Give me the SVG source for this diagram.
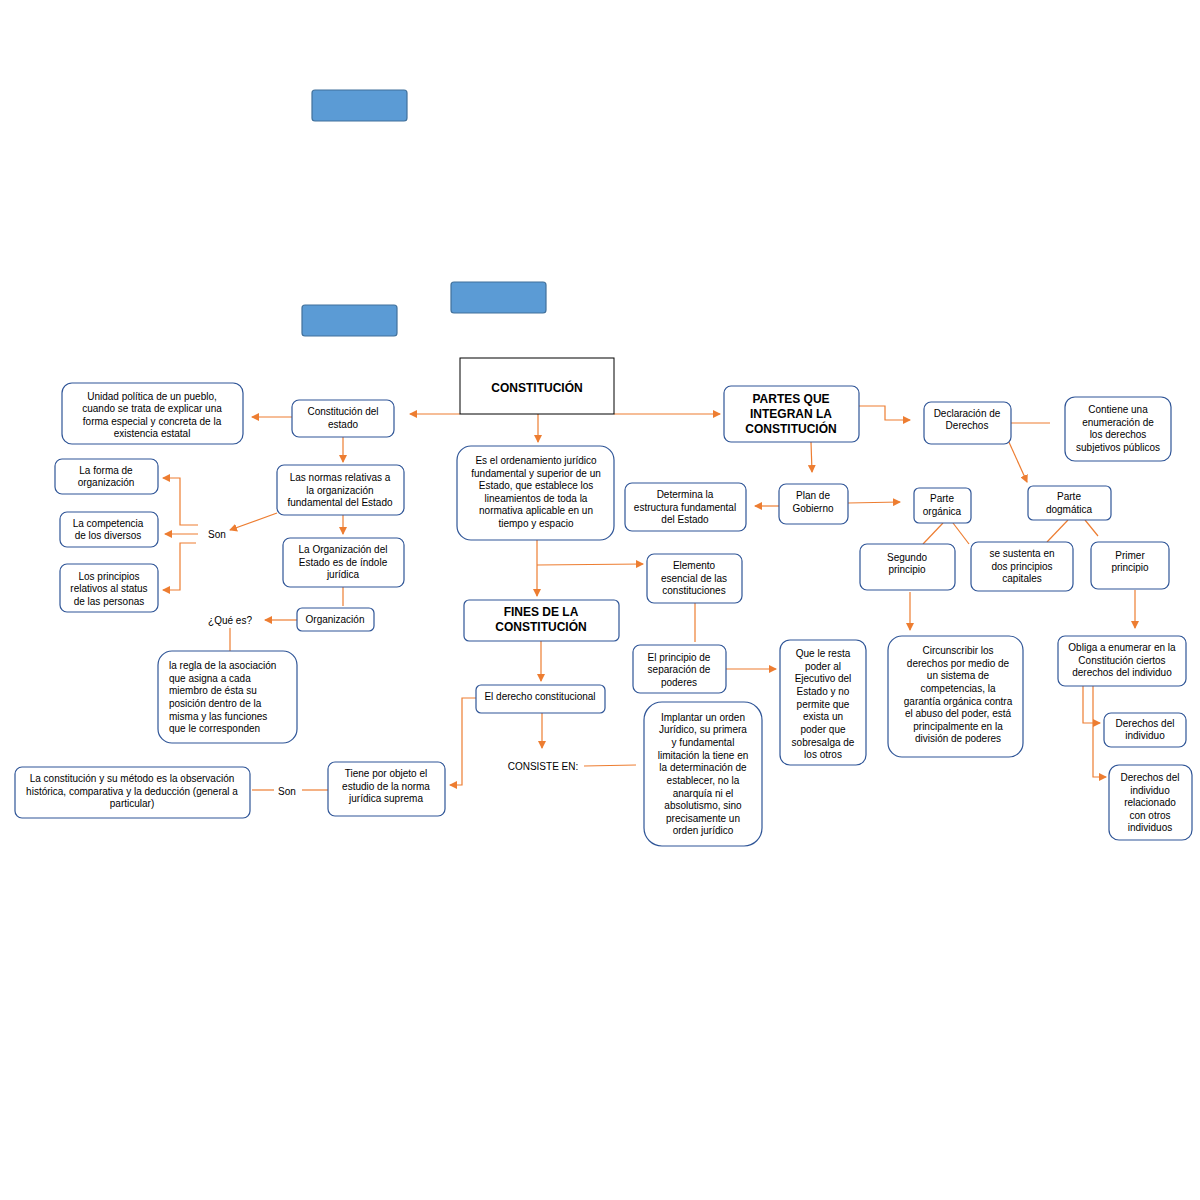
<svg xmlns="http://www.w3.org/2000/svg" width="1200" height="1200" viewBox="0 0 1200 1200">
<style>
.n{fill:#fff;stroke:#2F5597;stroke-width:1.2}
.b{fill:#5B9BD5;stroke:#41719C;stroke-width:1.2}
text{font-family:"Liberation Sans",Arial,sans-serif;font-size:10px;fill:#000;text-anchor:middle}
.h{font-size:12px;font-weight:bold}
.l{text-anchor:start}
.c path,.c line{fill:none;stroke:#ED7D31;stroke-width:1.2}
.c .a{marker-end:url(#ar)}
</style>
<defs><marker id="ar" markerWidth="8" markerHeight="8" refX="7" refY="4" orient="auto" markerUnits="userSpaceOnUse"><path d="M0,0 L8,4 L0,8 Z" fill="#ED7D31"/></marker></defs>
<rect width="1200" height="1200" fill="#fff"/>
<rect class="b" x="312" y="90" width="95" height="31" rx="3"/>
<rect class="b" x="451" y="282" width="95" height="31" rx="3"/>
<rect class="b" x="302" y="305" width="95" height="31" rx="3"/>
<g class="c">
<path class="a" d="M460,414 L410,414"/>
<path class="a" d="M614,414 L720,414"/>
<path class="a" d="M538,414 L538,442"/>
<path class="a" d="M292,417 L252,417"/>
<path class="a" d="M343,437 L343,462"/>
<path class="a" d="M277,513 L230,530"/>
<path class="a" d="M198,525 L180,525 L180,478 L163,478"/>
<path class="a" d="M198,534 L165,534"/>
<path class="a" d="M196,543 L180,543 L180,590 L163,590"/>
<path class="a" d="M343,515 L343,534"/>
<line x1="343" y1="587" x2="343" y2="606"/>
<path class="a" d="M297,620 L265,620"/>
<line x1="230" y1="628" x2="230" y2="651"/>
<path class="a" d="M537,540 L537,596"/>
<path class="a" d="M537,565 L643,564"/>
<line x1="695" y1="603" x2="695" y2="642"/>
<path class="a" d="M541,641 L541,681"/>
<path class="a" d="M542,713 L542,748"/>
<line x1="584" y1="766" x2="636" y2="765"/>
<path class="a" d="M476,698 L462,698 L462,785 L450,785"/>
<line x1="328" y1="790" x2="302" y2="790"/>
<line x1="274" y1="790" x2="252" y2="790"/>
<path class="a" d="M726,669 L776,669"/>
<path class="a" d="M811,442 L812,472"/>
<path class="a" d="M779,506 L755,506"/>
<path class="a" d="M848,503 L900,502"/>
<path class="a" d="M859,406 L885,406 L885,420 L910,420"/>
<line x1="1011" y1="423" x2="1050" y2="423"/>
<path class="a" d="M1008,440 L1027,482"/>
<line x1="943" y1="523" x2="923" y2="544"/>
<line x1="953" y1="523" x2="969" y2="544"/>
<line x1="1068" y1="520" x2="1047" y2="542"/>
<line x1="1085" y1="520" x2="1098" y2="536"/>
<path class="a" d="M910,592 L910,630"/>
<path class="a" d="M1135,590 L1135,628"/>
<path class="a" d="M1083,686 L1083,723 L1100,723"/>
<path class="a" d="M1093,686 L1093,777 L1106,777"/>
</g>
<g id="constitucion"><rect x="460" y="358" width="154" height="56" fill="#fff" stroke="#000" stroke-width="1"/><text class="h" x="537" y="392">CONSTITUCIÓN</text></g>
<g id="unidad"><rect class="n" x="62" y="383" width="181" height="61" rx="10"/><text x="152" y="400">Unidad política de un pueblo,</text><text x="152" y="412">cuando se trata de explicar una</text><text x="152" y="425">forma especial y concreta de la</text><text x="152" y="437">existencia estatal</text></g>
<g id="cestado"><rect class="n" x="292" y="400" width="102" height="37" rx="7"/><text x="343" y="415">Constitución del</text><text x="343" y="428">estado</text></g>
<g id="normas"><rect class="n" x="277" y="465" width="127" height="50" rx="7"/><text x="340" y="481">Las normas relativas a</text><text x="340" y="494">la organización</text><text x="340" y="506">fundamental del Estado</text></g>
<g id="forma"><rect class="n" x="55" y="459" width="103" height="35" rx="7"/><text x="106" y="474">La forma de</text><text x="106" y="486">organización</text></g>
<g id="competencia"><rect class="n" x="60" y="512" width="98" height="35" rx="7"/><text x="108" y="527">La competencia</text><text x="108" y="539">de los diversos</text></g>
<g id="principios"><rect class="n" x="60" y="564" width="98" height="48" rx="7"/><text x="109" y="580">Los principios</text><text x="109" y="592">relativos al status</text><text x="109" y="605">de las personas</text></g>
<text x="217" y="538">Son</text>
<g id="orgestado"><rect class="n" x="283" y="538" width="121" height="49" rx="7"/><text x="343" y="553">La Organización del</text><text x="343" y="566">Estado es de índole</text><text x="343" y="578">jurídica</text></g>
<g id="organizacion"><rect class="n" x="297" y="608" width="77" height="23" rx="5"/><text x="335" y="623">Organización</text></g>
<text x="230" y="624">¿Qué es?</text>
<g id="regla"><rect class="n" x="158" y="651" width="139" height="92" rx="14"/><text class="l" x="169" y="669">la regla de la asociación</text><text class="l" x="169" y="682">que asigna a cada</text><text class="l" x="169" y="694">miembro de ésta su</text><text class="l" x="169" y="707">posición dentro de la</text><text class="l" x="169" y="720">misma y las funciones</text><text class="l" x="169" y="732">que le corresponden</text></g>
<g id="ordenamiento"><rect class="n" x="457" y="446" width="157" height="94" rx="14"/><text x="536" y="464">Es el ordenamiento jurídico</text><text x="536" y="477">fundamental y superior de un</text><text x="536" y="489">Estado, que establece los</text><text x="536" y="502">lineamientos de toda la</text><text x="536" y="514">normativa aplicable en un</text><text x="536" y="527">tiempo y espacio</text></g>
<g id="fines"><rect class="n" x="464" y="600" width="155" height="41" rx="5"/><text class="h" x="541" y="616">FINES DE LA</text><text class="h" x="541" y="631">CONSTITUCIÓN</text></g>
<g id="elemento"><rect class="n" x="647" y="554" width="95" height="49" rx="7"/><text x="694" y="569">Elemento</text><text x="694" y="582">esencial de las</text><text x="694" y="594">constituciones</text></g>
<g id="derecho"><rect class="n" x="476" y="685" width="129" height="28" rx="5"/><text x="540" y="700">El derecho constitucional</text></g>
<text x="543" y="770">CONSISTE EN:</text>
<g id="objeto"><rect class="n" x="328" y="762" width="117" height="54" rx="7"/><text x="386" y="777">Tiene por objeto el</text><text x="386" y="790">estudio de la norma</text><text x="386" y="802">jurídica suprema</text></g>
<g id="metodo"><rect class="n" x="15" y="767" width="235" height="51" rx="7"/><text x="132" y="782">La constitución y su método es la observación</text><text x="132" y="795">histórica, comparativa y la deducción (general a</text><text x="132" y="807">particular)</text></g>
<text x="287" y="795">Son</text>
<g id="separacion"><rect class="n" x="633" y="645" width="93" height="48" rx="7"/><text x="679" y="661">El principio de</text><text x="679" y="673">separación de</text><text x="679" y="686">poderes</text></g>
<g id="implantar"><rect class="n" x="644" y="702" width="118" height="144" rx="18"/><text x="703" y="721">Implantar un orden</text><text x="703" y="733">Jurídico, su primera</text><text x="703" y="746">y fundamental</text><text x="703" y="759">limitación la tiene en</text><text x="703" y="771">la determinación de</text><text x="703" y="784">establecer, no la</text><text x="703" y="797">anarquía ni el</text><text x="703" y="809">absolutismo, sino</text><text x="703" y="822">precisamente un</text><text x="703" y="834">orden jurídico</text></g>
<g id="resta"><rect class="n" x="780" y="640" width="86" height="125" rx="10"/><text x="823" y="657">Que le resta</text><text x="823" y="670">poder al</text><text x="823" y="682">Ejecutivo del</text><text x="823" y="695">Estado y no</text><text x="823" y="708">permite que</text><text x="823" y="720">exista un</text><text x="823" y="733">poder que</text><text x="823" y="746">sobresalga de</text><text x="823" y="758">los otros</text></g>
<g id="partes"><rect class="n" x="724" y="386" width="135" height="56" rx="7"/><text class="h" x="791" y="403">PARTES QUE</text><text class="h" x="791" y="418">INTEGRAN LA</text><text class="h" x="791" y="433">CONSTITUCIÓN</text></g>
<g id="plan"><rect class="n" x="779" y="484" width="69" height="40" rx="7"/><text x="813" y="499">Plan de</text><text x="813" y="512">Gobierno</text></g>
<g id="determina"><rect class="n" x="625" y="483" width="121" height="48" rx="7"/><text x="685" y="498">Determina la</text><text x="685" y="511">estructura fundamental</text><text x="685" y="523">del Estado</text></g>
<g id="declaracion"><rect class="n" x="924" y="402" width="87" height="42" rx="7"/><text x="967" y="417">Declaración de</text><text x="967" y="429">Derechos</text></g>
<g id="contiene"><rect class="n" x="1065" y="397" width="106" height="64" rx="10"/><text x="1118" y="413">Contiene una</text><text x="1118" y="426">enumeración de</text><text x="1118" y="438">los derechos</text><text x="1118" y="451">subjetivos públicos</text></g>
<g id="organica"><rect class="n" x="914" y="488" width="57" height="35" rx="5"/><text x="942" y="502">Parte</text><text x="942" y="515">orgánica</text></g>
<g id="dogmatica"><rect class="n" x="1028" y="486" width="83" height="34" rx="5"/><text x="1069" y="500">Parte</text><text x="1069" y="513">dogmática</text></g>
<g id="segundo"><rect class="n" x="860" y="544" width="95" height="46" rx="7"/><text x="907" y="561">Segundo</text><text x="907" y="573">principio</text></g>
<g id="sustenta"><rect class="n" x="971" y="542" width="102" height="49" rx="7"/><text x="1022" y="557">se sustenta en</text><text x="1022" y="570">dos principios</text><text x="1022" y="582">capitales</text></g>
<g id="primer"><rect class="n" x="1091" y="542" width="78" height="47" rx="7"/><text x="1130" y="559">Primer</text><text x="1130" y="571">principio</text></g>
<g id="circunscribir"><rect class="n" x="888" y="636" width="135" height="121" rx="14"/><text x="958" y="654">Circunscribir los</text><text x="958" y="667">derechos por medio de</text><text x="958" y="679">un sistema de</text><text x="958" y="692">competencias, la</text><text x="958" y="705">garantía orgánica contra</text><text x="958" y="717">el abuso del poder, está</text><text x="958" y="730">principalmente en la</text><text x="958" y="742">división de poderes</text></g>
<g id="obliga"><rect class="n" x="1058" y="636" width="128" height="50" rx="7"/><text x="1122" y="651">Obliga a enumerar en la</text><text x="1122" y="664">Constitución ciertos</text><text x="1122" y="676">derechos del individuo</text></g>
<g id="dind"><rect class="n" x="1104" y="713" width="82" height="34" rx="7"/><text x="1145" y="727">Derechos del</text><text x="1145" y="739">individuo</text></g>
<g id="drel"><rect class="n" x="1109" y="765" width="83" height="75" rx="10"/><text x="1150" y="781">Derechos del</text><text x="1150" y="794">individuo</text><text x="1150" y="806">relacionado</text><text x="1150" y="819">con otros</text><text x="1150" y="831">individuos</text></g>
</svg>
